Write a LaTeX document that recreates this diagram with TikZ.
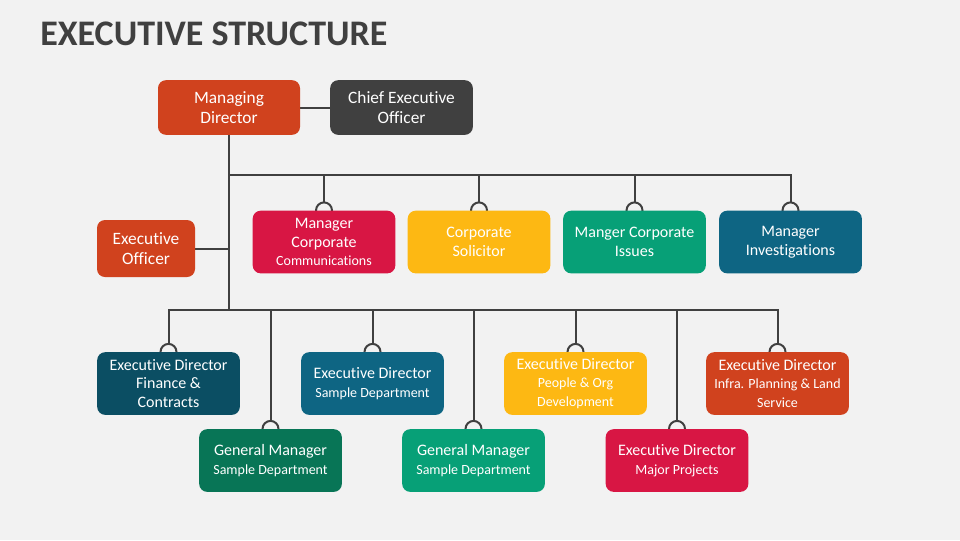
\documentclass[tikz,border=0pt]{standalone}
\usepackage{fontspec}
\setmainfont{Carlito}[RawFeature=-liga]
\usetikzlibrary{backgrounds}
\definecolor{bgGray}{RGB}{242,242,242}
\definecolor{wireGray}{RGB}{64,64,64}
\definecolor{rustO}{RGB}{208,66,30}
\definecolor{slateD}{RGB}{64,64,64}
\definecolor{crimR}{RGB}{216,22,68}
\definecolor{sunY}{RGB}{253,184,19}
\definecolor{jadeG}{RGB}{7,160,119}
\definecolor{seaB}{RGB}{14,101,131}
\definecolor{deepB}{RGB}{11,78,99}
\definecolor{deepG}{RGB}{8,117,86}
\newcommand{\subln}[1]{{\fontsize{10.5}{12}\selectfont #1}}

\begin{document}
\begin{tikzpicture}[x=0.75pt, y=-0.75pt, font=\fontsize{12}{14}\selectfont,
  box/.style={rounded corners=6pt, text=white, align=center, inner sep=2pt,
    minimum width=107pt, minimum height=47pt},
  big/.style={font=\fontsize{13}{15.6}\selectfont},
  wire/.style={draw=wireGray, line width=1.5pt}]
  \useasboundingbox (0,0) rectangle (960,540);
  % title
  \node[anchor=base west, inner sep=0, text=wireGray,
    font=\fontsize{27}{32}\selectfont\bfseries] (title) at (40,45) {EXECUTIVE STRUCTURE};
  % top level
  \node[box, big, fill=rustO, minimum width=106.5pt, minimum height=41pt] (md) at (229,107.5) {Managing\\Director};
  \node[box, big, fill=slateD, minimum width=107pt, minimum height=41pt] (ceo) at (401.5,107.5) {Chief Executive\\Officer};
  \node[box, big, fill=rustO, minimum width=73.5pt, minimum height=42.75pt] (eo) at (146,248.5) {Executive\\Officer};
  % managers row
  \foreach \n/\x/\c/\t in {mcc/324/crimR/{Manager\\Corporate\\\subln{Communications}},
      cs/479/sunY/{Corporate\\Solicitor}, mci/634.5/jadeG/{Manger Corporate\\Issues},
      mi/790.5/seaB/{Manager\\Investigations}} {
     \node[box, fill=\c] (\n) at (\x,242) {\t};}
  % directors, upper row
  \foreach \n/\x/\c/\t in {edf/168.5/deepB/{Executive Director\\Finance \&\\Contracts},
      eds/372.5/seaB/{Executive Director\\\subln{Sample Department}},
      edp/575.5/sunY/{Executive Director\\\subln{People \& Org}\\\subln{Development}},
      edi/777.5/rustO/{Executive Director\\\subln{Infra. Planning \& Land}\\\subln{Service}}} {
     \node[box, fill=\c] (\n) at (\x,383.5) {\t};}
  % directors, lower row
  \foreach \n/\x/\c/\t in {gm1/270.5/deepG/{General Manager\\\subln{Sample Department}},
      gm2/473.5/jadeG/{General Manager\\\subln{Sample Department}},
      edm/677/crimR/{Executive Director\\\subln{Major Projects}}} {
     \node[box, fill=\c] (\n) at (\x,460.5) {\t};}
  % connectors behind the boxes
  \begin{pgfonlayer}{background}
    \fill[bgGray] (0,0) rectangle (960,540);
    \coordinate (busA) at (229,175);
    \coordinate (busB) at (229,310);
    \draw[wire] (md.east) -- (ceo.west);
    \draw[wire] (md.south) -- (busB);
    \draw[wire] (eo.east) -- (eo.east -| busB);
    \foreach \n in {mcc,cs,mci,mi} {
       \draw[wire] (busA) -| ([yshift=6pt]\n.north);
       \draw[wire, fill=bgGray] (\n.north) circle[radius=6pt];}
    \foreach \n in {edf,eds,edp,edi,gm1,gm2,edm} {
       \draw[wire] (busB) -| ([yshift=6pt]\n.north);
       \draw[wire, fill=bgGray] (\n.north) circle[radius=6pt];}
  \end{pgfonlayer}
\end{tikzpicture}
\end{document}
